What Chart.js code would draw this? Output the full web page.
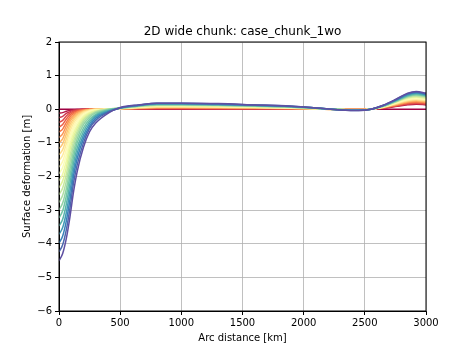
<!DOCTYPE html>
<html>
<head>
<meta charset="utf-8">
<script src="https://cdn.jsdelivr.net/npm/chart.js@4.4.1/dist/chart.umd.min.js"></script>
<style>
  html, body { margin: 0; padding: 0; background: #fff; }
</style>
</head>
<body>
<canvas id="myChart" width="474" height="351"></canvas>
<script>
const arcDistance = [0, 30, 60, 90, 120, 150, 200, 250, 300, 400, 500, 650, 800, 1000, 1300, 1600, 1900, 2100, 2300, 2450, 2550, 2650, 2750, 2850, 2920, 3000];

// one row per time step, shallow (dark red) -> deep (purple)
const deformation = [
  [0,0,0,0,0,0,0,0,0,0, 0,0,0,0,0,0,0,0,0,0, 0,0,0,0,0,0],
  [-0.12,-0.10,-0.06,-0.03,-0.02,-0.01,0,0,0,0, 0,0.01,0.01,0.01,0.01,0.01,0,0,0,0, 0.01,0.03,0.08,0.13,0.15,0.13],
  [-0.25,-0.21,-0.12,-0.07,-0.03,-0.02,0,0,0,0, 0,0.01,0.02,0.02,0.01,0.01,0.01,0,0,0, 0.01,0.04,0.09,0.15,0.17,0.15],
  [-0.39,-0.33,-0.20,-0.11,-0.06,-0.03,-0.01,0,0,0, 0.01,0.02,0.02,0.02,0.02,0.02,0.01,0.01,0,0, 0.01,0.04,0.10,0.16,0.18,0.16],
  [-0.53,-0.45,-0.29,-0.16,-0.09,-0.05,-0.01,0,0,0, 0.01,0.02,0.03,0.03,0.03,0.02,0.02,0.01,0,-0.01, 0.01,0.04,0.11,0.18,0.20,0.18],
  [-0.68,-0.59,-0.39,-0.22,-0.13,-0.07,-0.02,0,0,0, 0.01,0.03,0.04,0.04,0.04,0.03,0.02,0.01,0,-0.01, 0.01,0.05,0.12,0.20,0.22,0.20],
  [-0.84,-0.73,-0.49,-0.29,-0.17,-0.09,-0.03,-0.01,0,0, 0.01,0.03,0.05,0.05,0.04,0.03,0.02,0.01,0,-0.01, 0.01,0.05,0.13,0.21,0.23,0.21],
  [-1.00,-0.88,-0.61,-0.36,-0.22,-0.13,-0.04,-0.01,0,0, 0.01,0.04,0.06,0.06,0.05,0.04,0.03,0.01,-0.01,-0.01, 0.01,0.06,0.14,0.23,0.25,0.23],
  [-1.17,-1.03,-0.74,-0.45,-0.28,-0.16,-0.06,-0.02,0,0, 0.02,0.04,0.06,0.06,0.06,0.05,0.03,0.01,-0.01,-0.01, 0.01,0.06,0.15,0.24,0.27,0.24],
  [-1.35,-1.20,-0.88,-0.55,-0.34,-0.20,-0.08,-0.03,0,0, 0.02,0.05,0.07,0.07,0.06,0.05,0.04,0.02,-0.01,-0.01, 0,0.06,0.16,0.26,0.29,0.26],
  [-1.53,-1.37,-1.03,-0.66,-0.41,-0.26,-0.10,-0.04,-0.01,0, 0.02,0.06,0.08,0.08,0.07,0.06,0.04,0.02,-0.01,-0.02, 0,0.07,0.17,0.27,0.30,0.27],
  [-1.72,-1.55,-1.19,-0.78,-0.50,-0.32,-0.14,-0.05,-0.02,0, 0.02,0.06,0.09,0.09,0.08,0.06,0.04,0.02,-0.01,-0.02, 0,0.07,0.18,0.29,0.32,0.29],
  [-1.92,-1.73,-1.36,-0.91,-0.59,-0.39,-0.18,-0.07,-0.03,0, 0.02,0.07,0.10,0.10,0.09,0.07,0.05,0.02,-0.01,-0.02, 0,0.07,0.19,0.31,0.34,0.31],
  [-2.12,-1.93,-1.54,-1.05,-0.70,-0.47,-0.22,-0.10,-0.04,0, 0.03,0.07,0.10,0.10,0.09,0.07,0.05,0.02,-0.01,-0.02, 0,0.08,0.20,0.32,0.36,0.32],
  [-2.33,-2.13,-1.73,-1.20,-0.81,-0.55,-0.27,-0.12,-0.05,0, 0.03,0.08,0.11,0.11,0.10,0.08,0.06,0.02,-0.01,-0.02, 0,0.08,0.21,0.34,0.37,0.34],
  [-2.54,-2.34,-1.93,-1.38,-0.94,-0.64,-0.32,-0.16,-0.07,0, 0.03,0.08,0.12,0.12,0.11,0.09,0.06,0.03,-0.01,-0.02, 0,0.09,0.22,0.35,0.39,0.35],
  [-2.77,-2.56,-2.14,-1.57,-1.08,-0.74,-0.38,-0.19,-0.08,0, 0.03,0.09,0.13,0.13,0.12,0.09,0.06,0.03,-0.01,-0.03, 0,0.09,0.22,0.37,0.41,0.37],
  [-2.99,-2.79,-2.36,-1.77,-1.24,-0.86,-0.46,-0.24,-0.11,-0.01, 0.03,0.10,0.14,0.14,0.12,0.10,0.07,0.03,-0.01,-0.03, 0,0.09,0.23,0.38,0.43,0.38],
  [-3.23,-3.02,-2.58,-1.98,-1.40,-0.99,-0.56,-0.30,-0.15,-0.02, 0.04,0.10,0.14,0.14,0.13,0.10,0.07,0.03,-0.01,-0.03, 0,0.10,0.24,0.40,0.44,0.40],
  [-3.47,-3.27,-2.82,-2.20,-1.58,-1.14,-0.66,-0.36,-0.18,-0.04, 0.04,0.11,0.15,0.15,0.14,0.11,0.08,0.03,-0.02,-0.03, 0,0.10,0.25,0.41,0.46,0.41],
  [-3.72,-3.52,-3.07,-2.43,-1.77,-1.29,-0.77,-0.43,-0.22,-0.06, 0.04,0.11,0.16,0.16,0.14,0.12,0.08,0.04,-0.02,-0.03, 0,0.11,0.26,0.43,0.48,0.43],
  [-3.98,-3.77,-3.32,-2.68,-1.96,-1.45,-0.88,-0.50,-0.27,-0.08, 0.04,0.12,0.17,0.17,0.15,0.12,0.08,0.04,-0.02,-0.03, 0,0.11,0.27,0.45,0.50,0.45],
  [-4.24,-4.03,-3.58,-2.93,-2.17,-1.63,-1.00,-0.57,-0.33,-0.09, 0.04,0.12,0.18,0.18,0.16,0.13,0.09,0.04,-0.02,-0.04, 0,0.11,0.28,0.46,0.51,0.46],
  [-4.51,-4.29,-3.84,-3.19,-2.43,-1.83,-1.13,-0.67,-0.41,-0.12, 0.05,0.13,0.18,0.18,0.17,0.13,0.09,0.04,-0.02,-0.04, 0,0.12,0.29,0.48,0.53,0.48]
];

const xTicks = [0, 500, 1000, 1500, 2000, 2500, 3000];
const yTicks = [-6, -5, -4, -3, -2, -1, 0, 1, 2];

// matplotlib "Spectral" colormap
const spectral = ["#9e0142", "#d53e4f", "#f46d43", "#fdae61", "#fee08b", "#ffffbf",
                  "#e6f598", "#abdda4", "#66c2a5", "#3288bd", "#5e4fa2"];

function cmap(t) {
    let p = t * (spectral.length - 1);
    let i = Math.min(Math.floor(p), spectral.length - 2);
    let f = p - i;
    let a = spectral[i], b = spectral[i + 1];
    let c = [1, 3, 5].map(k => {
        let x = parseInt(a.substr(k, 2), 16), y = parseInt(b.substr(k, 2), 16);
        return Math.round(x + (y - x) * f);
    });
    return `rgb(${c[0]},${c[1]},${c[2]})`;
}

const font = "'DejaVu Sans', sans-serif";
const minus = v => String(v).replace('-', '\u2212');

let datasets = deformation.map((row, i) => ({
    data: row.map((v, k) => ({x: arcDistance[k], y: v})),
    borderColor: cmap(i / (deformation.length - 1)),
    borderWidth: 1.5,
    pointRadius: 0,
    fill: false,
    cubicInterpolationMode: 'monotone',
    order: deformation.length - i
}));

// black box round the plot + title centred on the axes, like matplotlib
const frame = {
    id: 'frame',
    afterDatasetsDraw(chart) {
        let {ctx, chartArea: a} = chart;
        ctx.save();
        ctx.strokeStyle = '#000';
        ctx.lineWidth = 1;
        ctx.strokeRect(a.left, a.top, a.right - a.left, a.bottom - a.top);
        ctx.restore();
    },
    afterDraw(chart) {
        let {ctx, chartArea: a} = chart;
        ctx.save();
        ctx.fillStyle = '#000';
        ctx.font = "12px " + font;
        ctx.textAlign = 'center';
        ctx.textBaseline = 'middle';
        ctx.fillText('2D wide chunk: case_chunk_1wo', (a.left + a.right) / 2, 32);
        ctx.restore();
    }
};

new Chart("myChart", {
    type: "line",
    data: { datasets: datasets },
    plugins: [frame],
    options: {
        responsive: false,
        animation: false,
        layout: { padding: { left: 0, right: 48, top: 42, bottom: 0 } },
        plugins: {
            legend: { display: false },
            tooltip: { enabled: false },
            title: { display: false }
        },
        scales: {
            x: {
                type: 'linear',
                min: 0, max: 3000,
                afterBuildTicks: s => { s.ticks = xTicks.map(v => ({value: v})); },
                afterFit: s => { s.height = 40; },
                grid: { color: '#b0b0b0', lineWidth: 0.8, tickColor: '#000', tickLength: 4, tickWidth: 1 },
                border: { color: '#000' },
                ticks: { color: '#000', padding: 2, maxRotation: 0, font: { family: font, size: 10 }, callback: minus },
                title: { display: true, text: 'Arc distance [km]', color: '#000',
                         font: { family: font, size: 10 }, padding: { top: 0, bottom: 7 } }
            },
            y: {
                min: -6, max: 2,
                afterBuildTicks: s => { s.ticks = yTicks.map(v => ({value: v})); },
                afterFit: s => { s.width = 59; },
                grid: { color: '#b0b0b0', lineWidth: 0.8, tickColor: '#000', tickLength: 4, tickWidth: 1 },
                border: { color: '#000' },
                ticks: { color: '#000', padding: 3, font: { family: font, size: 10 }, callback: minus },
                title: { display: true, text: 'Surface deformation [m]', color: '#000',
                         font: { family: font, size: 10 }, padding: { top: 21, bottom: 0 } }
            }
        }
    }
});
</script>
</body>
</html>
